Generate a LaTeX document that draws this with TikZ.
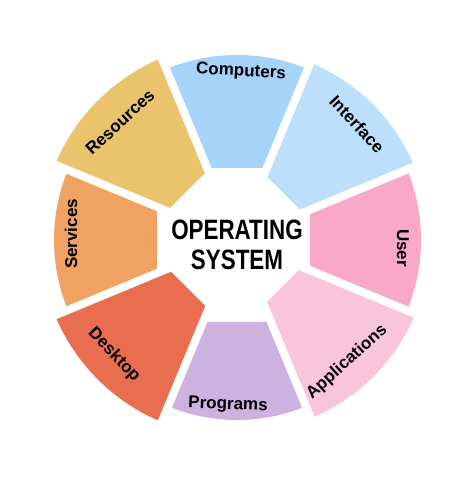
\documentclass[tikz,border=0pt]{standalone}
\usepackage{fontspec}
\setmainfont{Liberation Sans}
\newfontfamily\osfont[FakeStretch=0.8]{Liberation Sans}
\usetikzlibrary{calc}
\usetikzlibrary{positioning}

\definecolor{segComputers}{HTML}{A6D3FA}
\definecolor{segInterface}{HTML}{BDDFFB}
\definecolor{segUser}{HTML}{F9A8C8}
\definecolor{segApps}{HTML}{F9C5DA}
\definecolor{segPrograms}{HTML}{CDB2DF}
\definecolor{segDesktop}{HTML}{E96E50}
\definecolor{segServices}{HTML}{F0A262}
\definecolor{segResources}{HTML}{E9C46C}

\tikzset{
  gap/.style={draw=white, line width=8pt},
  seglabel/.style={font=\fontsize{17}{20}\selectfont\bfseries, inner sep=0pt},
  ostitle/.style={font=\osfont\fontsize{28}{30}\selectfont\bfseries, align=center, inner sep=0pt},
}

\begin{document}
\begin{tikzpicture}[x=1pt,y=1pt]
  \useasboundingbox (0,0) rectangle (474,500);
  \coordinate (c) at (237,260);

  % colour / outer radius / inner distance, clockwise from the top
  \foreach \k/\col/\R/\a in {0/segComputers/185/72, 1/segInterface/192/66,
      2/segUser/184/73, 3/segApps/193/65, 4/segPrograms/180/82,
      5/segDesktop/197/69, 6/segServices/183/80, 7/segResources/197/70} {
    \pgfmathsetmacro\th{90-45*\k}
    \pgfmathsetmacro\ri{\a/cos(22.5)}
    \fill[\col] ($(c)+(\th-22.5:\ri)$) -- ($(c)+(\th-22.5:\R)$)
      arc[start angle=\th-22.5, end angle=\th+22.5, radius=\R]
      -- ($(c)+(\th+22.5:\ri)$) -- cycle;
  }
  \foreach \b in {22.5,67.5,...,337.5}
    \draw[gap] (c) -- ($(c)+(\b:215)$);

  \node [ostitle] (os) at (237,255) {OPERATING\\SYSTEM};

  \node [seglabel, rotate=-3] (computers) at (241,428) {Computers};
  \node [seglabel, rotate=-47] (interface) at (357,376) {Interface};
  \node [seglabel, rotate=-90] (user) at (403,252) {User};
  \node [seglabel, rotate=42] (apps) at (347,138) {Applications};
  \node [seglabel, rotate=-2] (programs) at (228,95) {Programs};
  \node [seglabel, rotate=-46] (desktop) at (114,145) {Desktop};
  \node [seglabel, rotate=90] (services) at (71,266) {Services};
  \node [seglabel, rotate=43] (resources) at (120,378) {Resources};
\end{tikzpicture}
\end{document}
